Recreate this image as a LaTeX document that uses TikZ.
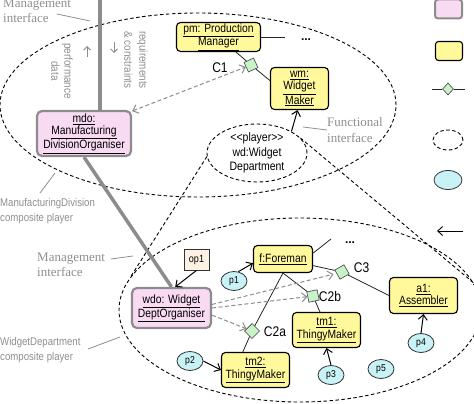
\documentclass[tikz,border=0pt]{standalone}
\usepackage{fontspec}
\setmainfont{Liberation Sans}
\newfontfamily\nsans{Liberation Sans}[FakeStretch=0.86]
\newfontfamily\gserif{Liberation Serif}
\usetikzlibrary{shapes.geometric,arrows.meta}
\definecolor{pinkf}{HTML}{F8DAF3}
\definecolor{grayb}{HTML}{8C8C8C}
\definecolor{yelf}{HTML}{FFF99C}
\definecolor{grnf}{HTML}{C8F2C8}
\definecolor{cyanf}{HTML}{C8F2F5}
\definecolor{opf}{HTML}{FDF1E4}
\definecolor{txtg}{HTML}{8E8E8E}
\begin{document}
\begin{tikzpicture}[x=1pt,y=-1pt,
  >={Straight Barb[length=5pt,width=9pt]},
  pinkbox/.style={rectangle, draw=grayb, line width=2.2pt, fill=pinkf, rounded corners=5pt, align=center, font=\nsans\fontsize{12}{12.5}\selectfont, inner sep=1pt},
  yelbox/.style={rectangle, draw=black, line width=1.1pt, fill=yelf, rounded corners=4pt, align=center, font=\nsans\fontsize{12}{12.5}\selectfont, inner sep=1pt},
  conn/.style={draw=black!85, line width=0.8pt},
  dia/.style={rectangle, draw=black!75, fill=grnf, minimum size=10.5pt, inner sep=0pt, line width=0.6pt},
  role/.style={ellipse, draw=black!80, fill=cyanf, minimum width=26pt, minimum height=19pt, inner sep=0pt, font=\nsans\fontsize{10}{11}\selectfont, line width=0.8pt},
  dsh/.style={dash pattern=on 3.5pt off 2.5pt, line width=0.9pt},
  container/.style={ellipse, draw=black, dsh, inner sep=0pt},
  grayarr/.style={draw=grayb, dash pattern=on 4pt off 2.5pt, line width=1pt},
  blkarr/.style={draw=black, line width=1pt, ->},
  mgmt/.style={draw=grayb, line width=3.5pt},
  gserifnote/.style={text=txtg, font=\gserif\fontsize{13}{15.5}\selectfont, align=left, inner sep=0pt},
  gsansnote/.style={text=txtg, font=\nsans\fontsize{11.2}{15}\selectfont, align=left, inner sep=0pt},
  pointer/.style={draw=txtg, line width=0.8pt},
  lbl/.style={font=\nsans\fontsize{14}{15}\selectfont, inner sep=0pt}
]
\useasboundingbox (0,0) rectangle (474,404);

% container ellipses
\node[container, minimum width=396pt, minimum height=184pt] (mdiv) at (198,105) {};
\node[container, minimum width=362pt, minimum height=184pt] (wdep) at (300,310) {};
\node[container, minimum width=100pt, minimum height=58pt, align=center,
      font=\nsans\fontsize{12.2}{14.5}\selectfont] (wd) at (257,153)
      {<\kern0pt<player>\kern0pt>\\wd:Widget\\Department};

% projection lines
\draw[dsh] (wd.184) -- (wdep.169);
\draw[dsh] (wd.19) -- (wdep.9);

% organiser nodes
\node[pinkbox, minimum width=94pt, minimum height=45pt] (mdo) at (84,133.5)
  {\underline{mdo:}\\\underline{Manufacturing}\\\underline{DivisionOrganiser}};
\node[pinkbox, minimum width=79pt, minimum height=40pt] (wdo) at (171.5,308)
  {\underline{wdo: Widget}\\\underline{DeptOrganiser}};

% management lines
\coordinate (mtop) at (100,-3);
\draw[mgmt] (mtop) -- (mtop |- mdo.north);
\draw[mgmt] (mdo.south) -- (wdo.north);

% role player nodes
\node[yelbox, minimum width=84pt, minimum height=27pt] (pm) at (218.5,37)
  {\underline{pm: Production}\\\underline{Manager}};
\node[yelbox, minimum width=58pt, minimum height=42pt] (wm) at (299.5,88.5)
  {\underline{wm:}\\\underline{Widget}\\\underline{Maker}};
\node[yelbox, minimum width=59pt, minimum height=27pt] (fore) at (283,259)
  {\underline{f:Foreman}};
\node[yelbox, minimum width=68pt, minimum height=36pt] (a1) at (423.5,295.5)
  {\underline{a1:}\\\underline{Assembler}};
\node[yelbox, minimum width=68pt, minimum height=35pt] (tm1) at (326.5,330)
  {\underline{tm1:}\\\underline{ThingyMaker}};
\node[yelbox, minimum width=68pt, minimum height=35pt] (tm2) at (255.5,370)
  {\underline{tm2:}\\\underline{ThingyMaker}};

\node[draw=black!80, fill=opf, line width=0.8pt, minimum width=25pt, minimum height=21pt,
      inner sep=0pt, font=\nsans\fontsize{10.5}{11}\selectfont] (op1) at (196.5,259.5) {op1};

% contracts
\node[dia, rotate=25] (C1) at (251,65) {};
\node[dia, rotate=45] (C2a) at (252,331) {};
\node[dia, rotate=12] (C2b) at (313,296) {};
\node[dia, rotate=30] (C3) at (342,272) {};
\node[lbl] (lC1) at (220,68) {C1};
\node[lbl] (lC2a) at (275,332) {C2a};
\node[lbl] (lC2b) at (330,296) {C2b};
\node[lbl] (lC3) at (361.5,268) {C3};

% roles (players)
\node[role] (p1) at (234,281) {p1};
\node[role] (p2) at (190,361) {p2};
\node[role] (p3) at (331,375) {p3};
\node[role] (p4) at (421,343) {p4};
\node[role] (p5) at (381,369) {p5};

% connectors
\draw[conn] (pm) -- (C1) -- (wm.165);
\coordinate (pmend) at (285,37);
\draw[conn] (pm.east) -- (pmend);
\node[font=\fontsize{12}{12}\selectfont\bfseries, inner sep=0pt] (dots1) at (306,40) {...};
\coordinate (fend) at (331,239);
\draw[conn] (fore.11) -- (fend);
\node[font=\fontsize{12}{12}\selectfont\bfseries, inner sep=0pt] (dots2) at (350,243) {...};
\draw[conn] (fore) -- (C3) -- (a1.west);
\draw[conn] (fore.south) -- (C2b) -- (tm1.110);
\draw[conn] (fore.south) -- (C2a) -- (tm2.125);

% player arrows
\draw[blkarr] (wd.32) -- (wm.265);
\draw[blkarr] (op1.south) -- (wdo.80);
\draw[blkarr] (p1.65) -- (fore.188);
\draw[blkarr] (p2.east) -- (tm2.west);
\draw[blkarr] (p3.north) -- (tm1.south);
\draw[blkarr] (p4.north) -- (a1.south);

% organiser-to-contract dashed arrows
\draw[grayarr, <->] (mdo.25) -- (C1);
\draw[grayarr, ->, shorten >=3pt] (wdo.5) -- (C3);
\draw[grayarr, ->] (wdo.0) -- (C2b);
\draw[grayarr, ->] (wdo.-10) -- (C2a);

% annotations
\node[gserifnote, anchor=west] (t1) at (3,11) {Management\\interface};
\coordinate (t1a) at (57,14);
\coordinate (t1b) at (90,21);
\draw[pointer] (t1a) -- (t1b);

\node[gsansnote, rotate=-90, align=center, font=\nsans\fontsize{11.5}{13}\selectfont] (t2) at (62,71) {performance\\data};
\coordinate (up1) at (87,57);
\coordinate (up2) at (87,46);
\draw[draw=txtg, line width=0.9pt, -{Straight Barb[length=3.5pt,width=7pt]}] (up1) -- (up2);

\node[gsansnote, rotate=-90, align=center, font=\nsans\fontsize{11.5}{15}\selectfont] (t3) at (136,60) {requirements\\\& constraints};
\coordinate (dn1) at (114,42);
\coordinate (dn2) at (114,53);
\draw[draw=txtg, line width=0.9pt, -{Straight Barb[length=3.5pt,width=7pt]}] (dn1) -- (dn2);

\node[gserifnote, anchor=west] (t4) at (327,130) {Functional\\interface};
\coordinate (t4a) at (303,127);
\draw[pointer] (t4a) -- (t4.west);

\node[gsansnote, anchor=west] (t5) at (0,211.5) {ManufacturingDivision\\composite player};
\coordinate (t5a) at (40,193);
\coordinate (t5b) at (55,173);
\draw[pointer] (t5a) -- (t5b);

\node[gserifnote, anchor=west] (t6) at (37,265) {Management\\interface};
\coordinate (t6a) at (111,259);
\coordinate (t6b) at (133,256);
\draw[pointer] (t6a) -- (t6b);

\node[gsansnote, anchor=west] (t7) at (0,350.5) {WidgetDepartment\\composite player};
\coordinate (t7a) at (88,349);
\coordinate (t7b) at (120,337);
\draw[pointer] (t7a) -- (t7b);

% legend
\node[rectangle, draw=grayb, line width=2pt, fill=pinkf, rounded corners=3pt, minimum width=27pt, minimum height=19pt] (lg1) at (448.5,9) {};
\node[rectangle, draw=black, line width=1.1pt, fill=yelf, rounded corners=3pt, minimum width=27pt, minimum height=19pt] (lg2) at (449,51) {};
\node[diamond, draw=black!75, fill=grnf, minimum width=11pt, minimum height=12pt, inner sep=0pt, line width=0.6pt] (lg3) at (448,89) {};
\coordinate (lg3a) at (432,89);
\coordinate (lg3b) at (465,89);
\draw[conn] (lg3a) -- (lg3.west);
\draw[conn] (lg3.east) -- (lg3b);
\node[container, minimum width=30pt, minimum height=20pt] (lg4) at (448,140) {};
\node[role, minimum width=28pt] (lg5) at (448,180) {};
\coordinate (lg6a) at (463,231);
\coordinate (lg6b) at (437,231);
\draw[draw=black, line width=0.9pt, ->] (lg6a) -- (lg6b);
\end{tikzpicture}
\end{document}
